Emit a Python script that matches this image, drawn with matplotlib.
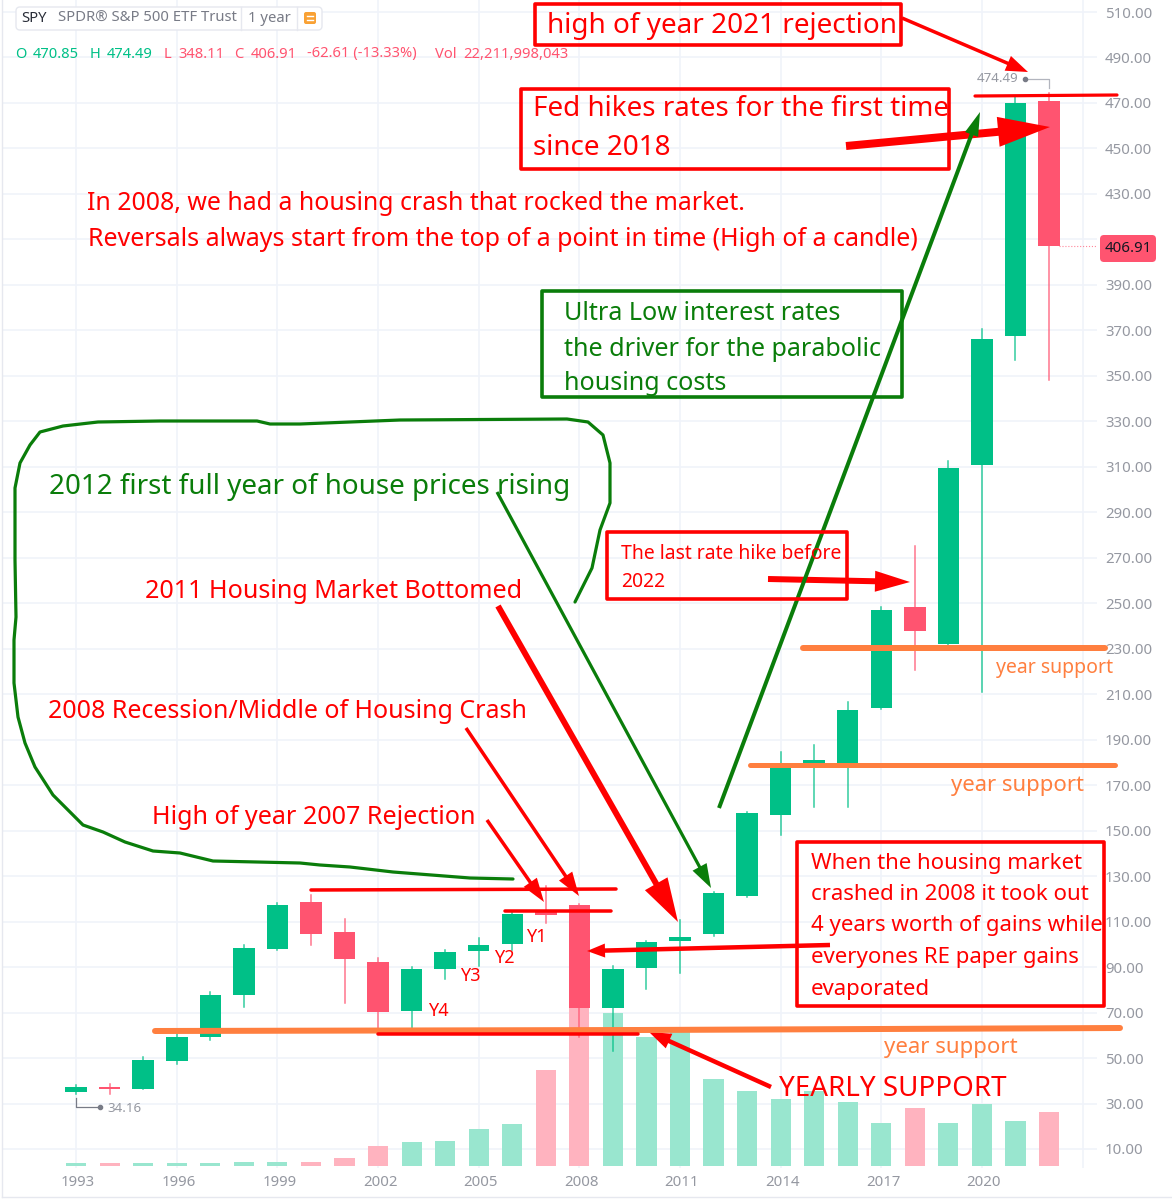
"""SPY yearly candles with hand-drawn style notes on top."""
import matplotlib
matplotlib.use("Agg")
import matplotlib.pyplot as plt
from matplotlib.patches import FancyBboxPatch, Rectangle
from matplotlib.transforms import ScaledTranslation

plt.rcParams["font.family"] = ["Noto Sans", "DejaVu Sans"]

W, H = 1172, 1200
UP, DOWN = "#00c087", "#ff5470"
UP_VOL, DOWN_VOL = "#99e6cf", "#ffb3bf"
GRID = "#f0f3fa"
AXIS_TXT = "#9598a1"
RED, GREEN, ORANGE = "#ff0000", "#0a7d0a", "#ff7f3f"

years = list(range(1993, 2023))
opens = [35.1, 37.3, 36.4, 48.7, 59.2, 77.7, 98.0, 118.6, 105.4, 92.2,
         70.7, 89.2, 97.1, 100.2, 114.2, 117.3, 72.0, 89.6, 101.5, 104.5,
         121.3, 156.9, 178.9, 179.7, 203.9, 248.3, 232.1, 310.8, 367.5, 470.85]
highs = [38.1, 38.6, 50.5, 60.6, 79.0, 99.7, 118.2, 121.7, 111.1, 94.0,
         90.0, 97.5, 102.8, 114.2, 125.7, 117.7, 90.5, 101.5, 110.7, 123.0,
         158.2, 184.6, 187.7, 206.6, 248.3, 275.2, 312.5, 370.6, 472.6, 474.49]
lows = [34.16, 34.4, 36.4, 47.4, 57.9, 72.4, 97.5, 99.7, 74.2, 61.9,
        62.3, 84.8, 90.5, 97.5, 109.4, 59.3, 53.1, 80.4, 87.4, 103.7,
        120.8, 148.1, 160.4, 160.4, 203.5, 220.6, 231.6, 211.0, 357.0, 348.11]
closes = [37.3, 36.4, 49.1, 59.2, 77.7, 98.4, 117.3, 104.5, 93.6, 70.3,
          89.2, 96.6, 99.7, 113.3, 112.9, 72.0, 89.2, 101.0, 103.2, 122.6,
          157.8, 178.0, 181.1, 203.0, 247.0, 237.8, 309.5, 366.2, 470.0, 406.91]
volume_bn = [1.2, 1.2, 1.2, 1.2, 1.2, 1.6, 1.6, 1.6, 3.3, 8.2,
             9.9, 10.3, 15.2, 17.3, 39.5, 66.2, 62.9, 53.0, 55.1, 35.8,
             30.8, 27.5, 30.8, 26.3, 17.7, 23.8, 17.7, 25.5, 18.5, 22.2]
year_ticks = [1993, 1996, 1999, 2002, 2005, 2008, 2011, 2014, 2017, 2020]
price_ticks = list(range(10, 511, 20))

fig = plt.figure(figsize=(W / 100, H / 100), dpi=100, facecolor="white")

# ---- chart ----
ax = fig.add_axes([3 / W, 32 / H, 1094 / W, 1168 / H])
ax.set_xlim(1990.82, 2023.43)
ax.set_ylim(1.64, 515.28)
for s in ax.spines.values():
    s.set_visible(False)
ax.set_xticks(year_ticks + [2023], [str(y) for y in year_ticks] + [""])
# the 410 label sits under the last-price tag
ax.set_yticks(price_ticks, ["" if p == 410 else f"{p:.2f}" for p in price_ticks])
ax.yaxis.tick_right()
ax.tick_params(length=0, labelsize=10.8, labelcolor=AXIS_TXT)
ax.tick_params(axis="y", pad=5.8)
ax.tick_params(axis="x", pad=5)
nudge = ScaledTranslation(2 / 100, 0, fig.dpi_scale_trans)
for lab in ax.get_xticklabels():
    lab.set_transform(lab.get_transform() + nudge)
ax.grid(color=GRID, linewidth=1.2, zorder=0)
ax.set_axisbelow(True)

# volume sits on the price scale, the way the overlay does it
vol_base, vol_k = 2.53, 1.07
for y, o, c, v in zip(years, opens, closes, volume_bn):
    ax.bar(y, v * vol_k, bottom=vol_base, width=0.6,
           color=UP_VOL if c >= o else DOWN_VOL, zorder=1)

for y, o, hi, lo, c in zip(years, opens, highs, lows, closes):
    col = UP if c >= o else DOWN
    ax.plot([y, y], [lo, hi], color=col, linewidth=1.1, alpha=0.8, zorder=2)
    ax.bar(y, abs(c - o), bottom=min(o, c), width=0.64, color=col, zorder=3)

ax.plot([2022.3, 2023.43], [closes[-1], closes[-1]], color=DOWN, linewidth=0.8,
        linestyle=":", alpha=0.7, zorder=2)

# ---- overlay in picture pixels for everything drawn by hand ----
ov = fig.add_axes([0, 0, 1, 1], facecolor="none")
ov.set_xlim(0, W)
ov.set_ylim(H, 0)
ov.axis("off")


def note(x, y, text, color=RED, size=18.0):
    ov.text(x, y + 2, text, color=color, fontsize=size, ha="left", va="center")


def box(x0, y0, x1, y1, color=RED, lw=3.6):
    ov.add_patch(Rectangle((x0, y0), x1 - x0, y1 - y0, fill=False, edgecolor=color,
                           linewidth=lw * 0.72, joinstyle="round"))


def stroke(xs, ys, color=RED, lw=3.5):
    ov.plot(xs, ys, color=color, linewidth=lw * 0.72, solid_capstyle="round",
            solid_joinstyle="round")


def arrow(x0, y0, x1, y1, color=RED, lw=3.5, hl=22, hw=17):
    ov.arrow(x0, y0, x1 - x0, y1 - y0, width=lw, head_length=hl, head_width=hw,
             length_includes_head=True, color=color, linewidth=0)


# frame and header
ov.plot([2, 2], [0, 1197], color="#e6e8ef", linewidth=1)
ov.plot([2, W], [1197, 1197], color="#e6e8ef", linewidth=1)
ov.add_patch(FancyBboxPatch((16, 7), 306, 23, boxstyle="round,pad=0,rounding_size=4",
                            facecolor="white", edgecolor="#e6e8ef", linewidth=1))
ov.plot([241, 241], [7, 30], color="#e6e8ef", linewidth=1)
ov.plot([297, 297], [7, 30], color="#e6e8ef", linewidth=1)
ov.text(21, 18, "SPY", color="#2a2e39", fontsize=10.7, va="center")
ov.text(58, 18, "SPDR® S&P 500 ETF Trust", color="#787b86", fontsize=10.7, va="center")
ov.text(248, 18, "1 year", color="#787b86", fontsize=10.7, va="center")
ov.add_patch(FancyBboxPatch((304, 12), 12, 12, boxstyle="round,pad=0,rounding_size=2",
                            facecolor="#f9a134", edgecolor="none"))
ov.plot([307, 313], [16, 16], color="white", linewidth=1)
ov.plot([307, 313], [20, 20], color="white", linewidth=1)

for x, t, c in [(15, "O", UP), (33, "470.85", UP), (90, "H", UP), (107, "474.49", UP),
                (164, "L", DOWN), (178, "348.11", DOWN), (234, "C", DOWN), (251, "406.91", DOWN),
                (307, "-62.61 (-13.33%)", DOWN), (435, "Vol", DOWN), (463, "22,211,998,043", DOWN)]:
    ov.text(x, 54, t, color=c, fontsize=10.6, va="center")

# price tag and high / low markers
ov.add_patch(FancyBboxPatch((1100, 235), 56, 27, boxstyle="round,pad=0,rounding_size=4",
                            facecolor=DOWN, edgecolor="none"))
ov.text(1128, 248.5, "406.91", color="#131722", fontsize=10.8, ha="center", va="center")
ov.text(998, 79, "474.49", color=AXIS_TXT, fontsize=9.6, ha="center", va="center")
ov.plot([1025, 1049, 1049], [79, 79, 88], color="#b2b5be", linewidth=0.9)
ov.plot([1025], [79], "o", color="#787b86", markersize=3)
ov.text(107, 1108, "34.16", color=AXIS_TXT, fontsize=9.6, va="center")
ov.plot([76, 76, 100], [1098, 1107, 1107], color="#787b86", linewidth=0.9)
ov.plot([100], [1107], "o", color="#787b86", markersize=3)

# orange support lines
stroke([803, 1105], [648, 648], ORANGE, 6)
stroke([750, 1115], [765, 765], ORANGE, 5)
stroke([155, 640, 1120], [1031, 1030, 1028], ORANGE, 6)
note(996, 666, "year support", ORANGE, 14)
note(951, 784, "year support", ORANGE, 15.9)
note(884, 1046, "year support", ORANGE, 16)

# red levels
stroke([311, 616], [890, 889], RED, 3.5)
stroke([505, 611], [911, 911], RED, 3.5)
stroke([378, 638], [1034, 1034], RED, 3.5)
stroke([975, 1117], [96, 95], RED, 3.2)

# freehand green loop
loop_x = [513, 470, 393, 350, 320, 300, 257, 213, 180, 153, 125, 103, 83, 53, 35, 25, 18, 14, 14,
          16, 15, 15, 20, 30, 40, 63, 98, 160, 257, 270, 300, 350, 400, 567, 588, 603, 610, 610,
          600, 592, 575]
loop_y = [879, 878, 872, 867, 865, 863, 862, 861, 853, 851, 842, 832, 825, 795, 767, 743, 717,
          683, 640, 617, 560, 488, 463, 445, 432, 426, 422, 421, 421, 424, 424, 422, 420, 419,
          422, 435, 463, 503, 530, 568, 602]
stroke(loop_x, loop_y, GREEN, 3.2)

# arrows
arrow(902, 18, 1028, 72, RED, 3.5, 22, 16)
arrow(846, 146, 1050, 127, RED, 8, 52, 30)
arrow(487, 820, 544, 902, RED, 3.5, 24, 16)
arrow(466, 728, 579, 896, RED, 3.5, 24, 16)
arrow(498, 606, 678, 922, RED, 6, 44, 26)
arrow(830, 945, 587, 951, RED, 4.5, 18, 14)
arrow(768, 579, 910, 582, RED, 6, 35, 21)
arrow(771, 1087, 649, 1032, RED, 4.5, 22, 16)
arrow(719, 808, 980, 112, GREEN, 4, 24, 14)
arrow(497, 492, 711, 888, GREEN, 3.2, 24, 16)

# boxes and text
box(535, 4, 901, 45)
note(547, 24, "high of year 2021 rejection", size=20.1)
box(521, 89, 949, 169)
note(533, 107, "Fed hikes rates for the first time", size=20.05)
note(533, 146, "since 2018", size=20.05)
note(87, 201, "In 2008, we had a housing crash that rocked the market.", size=17.9)
note(88, 237, "Reversals always start from the top of a point in time (High of a candle)", size=18)
box(542, 291, 902, 397, GREEN)
note(564, 311, "Ultra Low interest rates", GREEN, 18.1)
note(564, 347, "the driver for the parabolic", GREEN, 18.1)
note(564, 382, "housing costs", GREEN, 18.1)
note(49, 485, "2012 first full year of house prices rising", GREEN, 20)
note(145, 590, "2011 Housing Market Bottomed", size=18.1)
note(48, 710, "2008 Recession/Middle of Housing Crash", size=18)
note(152, 816, "High of year 2007 Rejection", size=18.1)
box(607, 532, 847, 599)
note(621, 552, "The last rate hike before", size=13.9)
note(621, 580, "2022", size=13.9)
box(797, 842, 1104, 1006)
for yy, t in [(861, "When the housing market"), (892, "crashed in 2008 it took out"),
              (924, "4 years worth of gains while"), (956, "everyones RE paper gains"),
              (988, "evaporated")]:
    note(811, yy, t, size=16)
note(779, 1087, "YEARLY SUPPORT", size=20)
for x, yy, t in [(526, 935, "Y1"), (494, 956, "Y2"), (460, 974, "Y3"), (428, 1009, "Y4")]:
    note(x, yy, t, size=13)

fig.savefig("out.png", dpi=100)
